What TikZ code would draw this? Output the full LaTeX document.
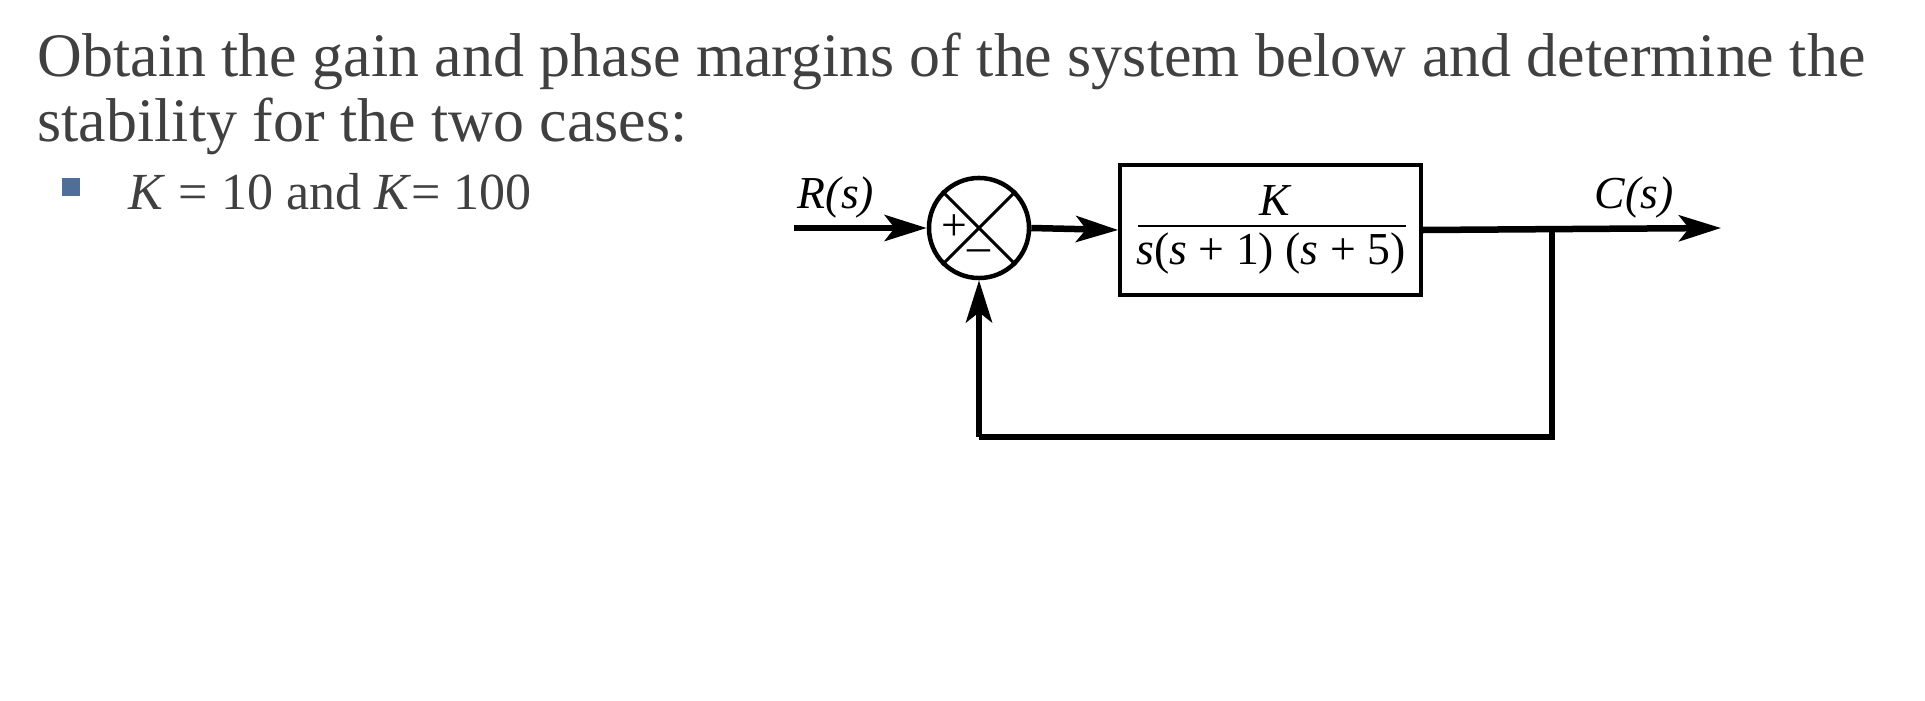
\documentclass[tikz,border=0pt]{standalone}
\usepackage{fontspec}
\setmainfont{Liberation Serif}
\usetikzlibrary{arrows.meta}
\begin{document}
\begin{tikzpicture}[x=0.01cm,y=-0.01cm,
  sig/.style={line width=0.065cm},
  arr/.style={sig,-{Stealth[length=0.42cm,width=0.26cm,inset=0.1cm]}},
  lbl/.style={font=\fontsize{13}{15}\selectfont\itshape, inner sep=0pt}]
\useasboundingbox (0,0) rectangle (1925,700);
\node[anchor=base west, inner sep=0pt, font=\fontsize{17.6}{21}\selectfont, text=black!75] (t1) at (37,76) {Obtain the gain and phase margins of the system below and determine the};
\node[anchor=base west, inner sep=0pt, font=\fontsize{17.6}{21}\selectfont, text=black!75] (t2) at (37,141) {stability for the two cases:};
\fill[fill={rgb,255:red,79;green,111;blue,154}] (62,178) rectangle (80,196);
\node[anchor=base west, inner sep=0pt, font=\fontsize{14.8}{18}\selectfont, text=black!75] (t3) at (128,209) {\textit{K} = 10 and \textit{K}= 100};
% diagram
\node[circle, draw, line width=0.045cm, minimum size=1.0cm, inner sep=0pt] (sum) at (979,228) {};
\draw[line width=0.03cm] (sum.45) -- (sum.225) (sum.135) -- (sum.315);
\node[font=\fontsize{13}{15}\selectfont, inner sep=0pt] (plus) at (954,228) {+};
\node[font=\fontsize{13}{15}\selectfont, inner sep=0pt] (minus) at (979,256) {\textendash};
\node[draw, line width=0.035cm, minimum width=3.01cm, minimum height=1.3cm, inner sep=0pt] (G) at (1270.5,230) {};
\node[lbl] (K) at (1275,201) {K};
\node[font=\fontsize{13}{15}\selectfont, inner sep=0pt] (den) at (1271,254) {\textit{s}(\textit{s} + 1) (\textit{s} + 5)};
\draw[line width=0.025cm] (1138,226) -- (1406,226);
\coordinate (src) at (794,228);
\coordinate (out) at (1721,228);
\coordinate (br) at (1552,228);
\coordinate (c1) at (1552,437);
\coordinate (c2) at (979,437);
\draw[arr] (src) -- (sum.west);
\draw[arr] (sum.east) -- (G.west);
\draw[arr] (G.east) -- (out);
\draw[sig] (br) -- (c1) -- (c2);
\draw[arr] (c2) -- (sum.south);
\node[lbl] (R) at (836,198) {R(s)};
\node[lbl] (C) at (1634,198) {C(s)};
\end{tikzpicture}
\end{document}
